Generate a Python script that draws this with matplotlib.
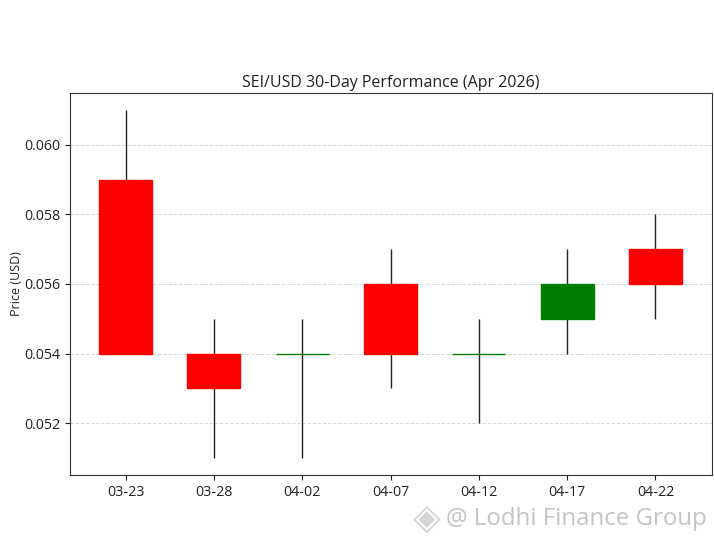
import matplotlib
matplotlib.use('Agg')
import matplotlib.pyplot as plt

plt.rcParams['font.family'] = ['Open Sans', 'DejaVu Sans']

dates = ['03-23', '03-28', '04-02', '04-07', '04-12', '04-17', '04-22']
opens = [0.059, 0.054, 0.054, 0.056, 0.054, 0.055, 0.057]
closes = [0.054, 0.053, 0.054, 0.054, 0.054, 0.056, 0.056]
highs = [0.061, 0.055, 0.055, 0.057, 0.055, 0.057, 0.058]
lows = [0.054, 0.051, 0.051, 0.053, 0.052, 0.054, 0.055]
colors = ['red', 'red', 'green', 'red', 'green', 'green', 'red']

fig = plt.figure(figsize=(7.14, 5.44), dpi=100)
ax = fig.add_axes([70 / 714, 1 - 475 / 544, 642 / 714, 382 / 544])

xs = range(len(dates))
ax.vlines(xs, lows, highs, color='#222222', linewidth=1, zorder=2)
for x, o, c, col in zip(xs, opens, closes, colors):
    ax.bar(x, abs(o - c), bottom=min(o, c), width=0.6, color=col, edgecolor=col, linewidth=1, zorder=3)

ax.set_xlim(-0.63, 6.64)
ax.set_ylim(0.05051, 0.06149)
ax.set_xticks(list(xs))
ax.set_xticklabels(dates)
ax.set_yticks([0.052, 0.054, 0.056, 0.058, 0.060])
ax.set_yticklabels(['0.052', '0.054', '0.056', '0.058', '0.060'])
ax.tick_params(labelsize=10.3, colors='#222222')
for s in ax.spines.values():
    s.set_color('#333333')
ax.grid(axis='y', linestyle='--', color='#d8d8d8', linewidth=0.7)
ax.set_axisbelow(True)
ax.set_ylabel('Price (USD)', fontsize=9, labelpad=1, color='#222222')
ax.set_title('SEI/USD 30-Day Performance (Apr 2026)', fontsize=11.5, pad=4, color='#222222')

# watermark
fig.text(446 / 714, 1 - 519 / 544, '@ Lodhi Finance Group', fontsize=17.3, color='#c4c4c4', va='center', ha='left')
fig.text(427 / 714, 1 - 519 / 544, '\u25c8', fontsize=26, color='#d4d4d4', va='center', ha='center', family=['DejaVu Sans'])

fig.savefig('out.png', dpi=100)
